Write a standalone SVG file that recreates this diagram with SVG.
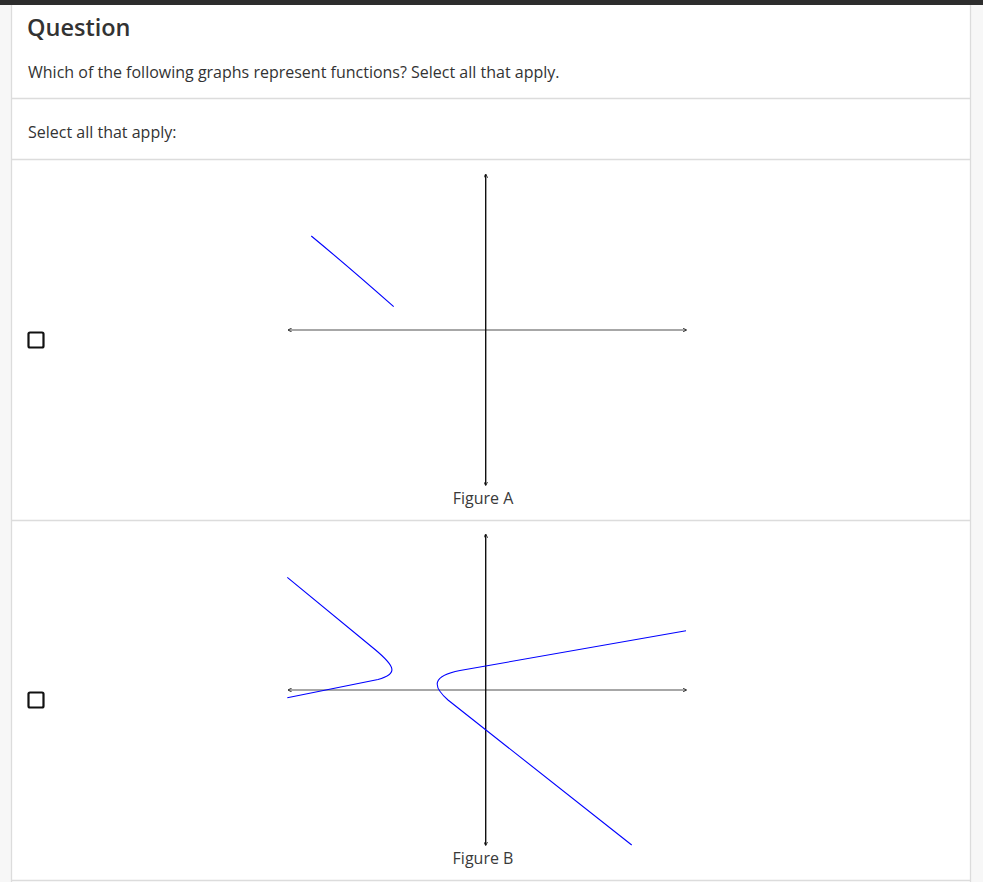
<svg xmlns="http://www.w3.org/2000/svg" width="983" height="882" viewBox="0 0 983 882">
  <style>
    .txt { font-family: "Open Sans", "Noto Sans", "Liberation Sans", sans-serif; fill: #333; }
    .sep { stroke: #dcdcdc; stroke-width: 1.3; fill: none; }
    .xaxis { stroke: #8a8a8a; stroke-width: 1.4; fill: none; }
    .yaxis { stroke: #111; stroke-width: 1.4; fill: none; }
    .curve { stroke: #0000ff; stroke-width: 1.1; fill: none; }
    .chk { fill: #fff; stroke: #111; stroke-width: 2.2; }
    .fig { font-family: "Open Sans", "Noto Sans", "Liberation Sans", sans-serif; font-size: 16px; font-weight: 500; fill: #3a3a3a; }
  </style>
  <defs>
    <marker id="tip" viewBox="0 0 6 6" refX="5" refY="3" markerWidth="4" markerHeight="4" orient="auto-start-reverse" markerUnits="userSpaceOnUse">
      <path d="M0,0 L6,3 L0,6" fill="none" stroke="#111" stroke-width="1.2"/>
    </marker>
  </defs>
  <rect x="0" y="0" width="983" height="882" fill="#f7f7f7"/>
  <rect x="12" y="5" width="958" height="877" fill="#ffffff"/>
  <rect x="0" y="0" width="983" height="5" fill="#2d2d2d"/>
  <line class="sep" x1="11.5" y1="5" x2="11.5" y2="882"/>
  <line class="sep" x1="970.5" y1="5" x2="970.5" y2="882"/>
  <line class="sep" x1="12" y1="98.5" x2="970" y2="98.5"/>
  <line class="sep" x1="12" y1="159.5" x2="970" y2="159.5"/>
  <line class="sep" x1="12" y1="520.5" x2="970" y2="520.5"/>
  <line class="sep" x1="12" y1="880.5" x2="970" y2="880.5"/>

  <g id="header">
    <text class="txt" x="27" y="36" font-size="23.5" font-weight="600">Question</text>
    <text class="txt" x="28" y="78" font-size="16">Which of the following graphs represent functions? Select all that apply.</text>
    <text class="txt" x="28" y="138" font-size="16">Select all that apply:</text>
  </g>

  <g id="optionA">
    <rect class="chk" x="28.5" y="332.5" width="15" height="15" rx="1.5"/>
    <g id="figureA">
      <line class="xaxis" x1="288.5" y1="330" x2="686" y2="330" marker-start="url(#tip)" marker-end="url(#tip)"/>
      <line class="yaxis" x1="485.7" y1="174.5" x2="485.7" y2="485" marker-start="url(#tip)" marker-end="url(#tip)"/>
      <path class="curve" d="M311.3,236 Q350,268 393.7,306.7"/>
      <text class="fig" x="483" y="503.5" text-anchor="middle">Figure A</text>
    </g>
  </g>

  <g id="optionB">
    <rect class="chk" x="28.5" y="692.5" width="15" height="15" rx="1.5"/>
    <g id="figureB">
      <line class="xaxis" x1="288.5" y1="690" x2="686" y2="690" marker-start="url(#tip)" marker-end="url(#tip)"/>
      <line class="yaxis" x1="485.7" y1="534.5" x2="485.7" y2="845" marker-start="url(#tip)" marker-end="url(#tip)"/>
      <path class="curve" d="M287.3,577.3 L375,649.5 C396,667 398,674 378,679.5 L287.3,697.7"/>
      <path class="curve" d="M686,630.7 L460,670.5 C432,676 432,686 448,700 L631.7,845"/>
      <text class="fig" x="483" y="863.5" text-anchor="middle">Figure B</text>
    </g>
  </g>
</svg>
